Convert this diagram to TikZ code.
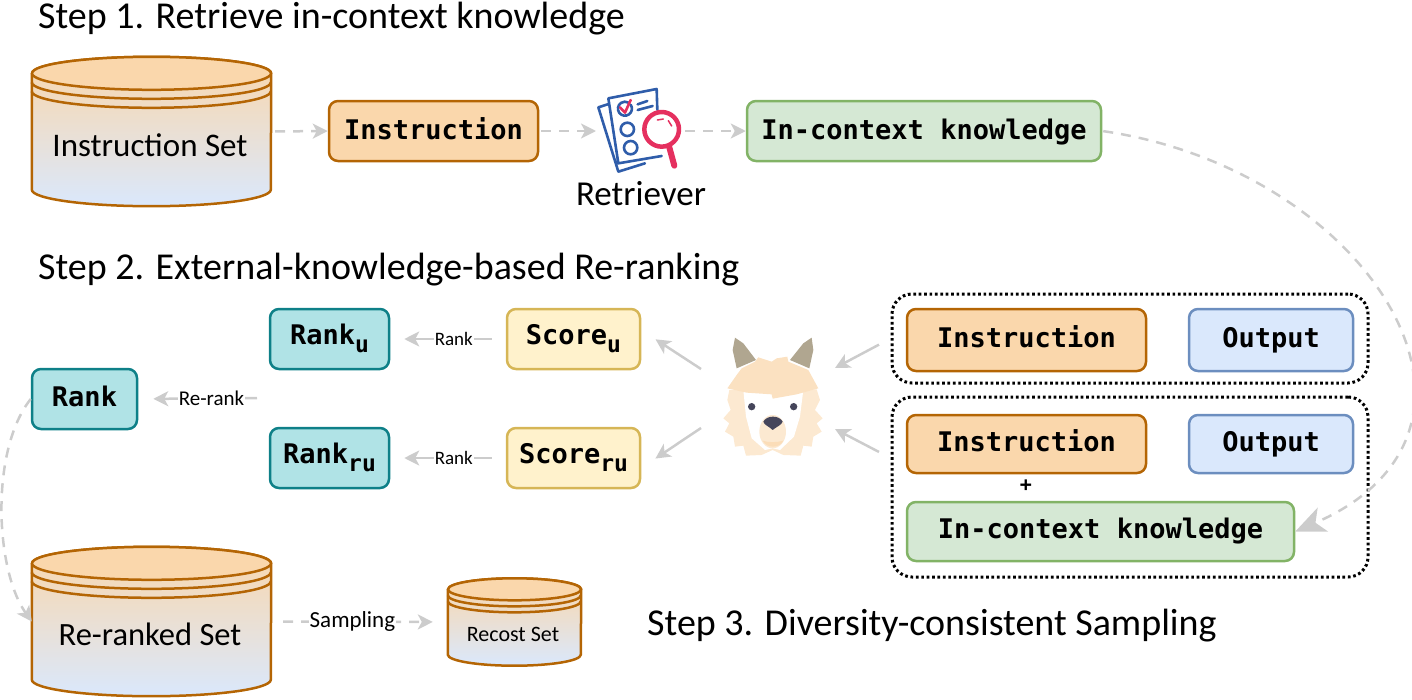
\documentclass[tikz,border=0pt]{standalone}
\usepackage{fontspec}
\setmainfont{Carlito}
\setmonofont{DejaVu Sans Mono}
\usetikzlibrary{shapes, arrows.meta, positioning}

\definecolor{storeline}{HTML}{B46504}
\definecolor{orangefill}{HTML}{FAD7AC}
\definecolor{bluefill}{HTML}{DAE8FC}
\definecolor{blueline}{HTML}{6C8EBF}
\definecolor{greenfill}{HTML}{D5E8D4}
\definecolor{greenline}{HTML}{82B366}
\definecolor{tealfill}{HTML}{B0E3E6}
\definecolor{tealline}{HTML}{0E8088}
\definecolor{yellowfill}{HTML}{FFF2CC}
\definecolor{yellowline}{HTML}{D6B656}
\definecolor{flowgray}{HTML}{CCCCCC}
\definecolor{iconblue}{HTML}{2F5DAA}
\definecolor{iconred}{HTML}{E5305F}
\definecolor{earcolor}{HTML}{B0A690}
\definecolor{nosecolor}{HTML}{45455A}

\newcommand{\fsize}[1]{\fontsize{#1}{#1}\selectfont}
\newcommand{\lowtext}[1]{\raisebox{-.3em}{\fsize{23}#1}}

% node, x radius, y radius, gap between the rims
\newcommand{\datastore}[4]{
  \draw[storeline, line width=2.5pt, top color=orangefill, bottom color=bluefill]
    ([yshift=-#3pt]#1.north west) -- ([yshift=#3pt]#1.south west)
    arc[start angle=180, end angle=360, x radius=#2pt, y radius=#3pt]
    -- ([yshift=-#3pt]#1.north east)
    arc[start angle=0, end angle=180, x radius=#2pt, y radius=#3pt];
  \draw[storeline, line width=2.5pt]
    ([yshift=-#3pt-#4pt]#1.north west) arc[start angle=180, end angle=360, x radius=#2pt, y radius=#3pt];
  \draw[storeline, line width=2.5pt]
    ([yshift=-#3pt-2*#4pt]#1.north west) arc[start angle=180, end angle=360, x radius=#2pt, y radius=#3pt];
  \draw[storeline, line width=2.5pt, fill=orangefill]
    ([yshift=-#3pt]#1.north) ellipse[x radius=#2pt, y radius=#3pt];
}

\tikzset{
  box/.style={draw, rectangle, rounded corners=9pt, line width=2.5pt, inner sep=0pt,
    minimum height=60pt, text height=20.5pt, text depth=6pt, font=\ttfamily\bfseries\fsize{27}},
  instrbox/.style={box, draw=storeline, fill=orangefill, minimum width=239pt},
  outbox/.style={box, draw=blueline, fill=bluefill, minimum width=164pt},
  knowbox/.style={box, draw=greenline, fill=greenfill},
  rankbox/.style={box, draw=tealline, fill=tealfill, minimum width=119pt},
  scorebox/.style={box, draw=yellowline, fill=yellowfill, minimum width=133pt},
  groupbox/.style={draw, rectangle, rounded corners=20pt, line width=3pt,
    dash pattern=on 2.7pt off 2.7pt, minimum width=476pt, inner sep=0pt},
  storebody/.style={rectangle, inner sep=0pt},
  steptext/.style={font=\fsize{38}, anchor=west, inner sep=0pt},
  flowline/.style={flowgray, line width=2.5pt, dash pattern=on 10pt off 8pt,
    -{Stealth[length=15pt, width=15pt, inset=4pt]}},
  plainline/.style={flowgray, line width=2.5pt, -{Stealth[length=15pt, width=15pt, inset=4pt]}},
  edgetext/.style={fill=white, text=black, inner sep=1pt, font=\fsize{19}},
}

\begin{document}
\begin{tikzpicture}[x=1pt, y=-1pt, node distance=100pt]
  \useasboundingbox (0,0) rectangle (1412,699);

  % Step titles
  \node (stepone) [steptext] at (38,19) {Step 1. Retrieve in-context knowledge};
  \node (steptwo) [steptext] at (38,270) {Step 2. External-knowledge-based Re-ranking};
  \node (stepthree) [steptext] at (647,626) {Step 3. Diversity-consistent Sampling};

  % Stores
  \node (instrset) [storebody, minimum width=239pt, minimum height=149pt] at (151.5,131.5) {};
  \datastore{instrset}{119.5}{16.5}{9}
  \node (instrsetlabel) [font=\fsize{33}] at (150,145) {Instruction Set};

  \node (rerankset) [storebody, minimum width=239pt, minimum height=149pt] at (151.5,621.5) {};
  \datastore{rerankset}{119.5}{16.5}{9}
  \node (reranklabel) [font=\fsize{32.5}] at (150,634) {Re-ranked Set};

  \node (recostset) [storebody, minimum width=133pt, minimum height=87pt] at (514.5,622) {};
  \datastore{recostset}{66.5}{11}{6}
  \node (recostlabel) [font=\fsize{22}] at (513,634) {Recost Set};

  % Step 1 boxes
  \node (instr) [instrbox, minimum width=209pt, text depth=4pt] at (433.5,131) {Instruction};
  \node (know) [knowbox, minimum width=354pt, text depth=4pt, right of=instr, node distance=490.5pt] {In-context knowledge};
  \coordinate (retrin) at (596,131);
  \coordinate (retrout) at (685,131);

  % Retriever icon
  \begin{scope}[shift={(570,70)}, x=.3333pt, y=-.3333pt, line cap=round, line join=round]
    \draw[iconblue, line width=2.6pt]
      (113,103) -- (85,112) -- (145,305) -- (225,280)
      (262,120) -- (260,57) -- (115,85) -- (145,280) -- (275,258)
      (162,118) ++(20,-14) arc[start angle=-35, end angle=300, radius=21]
      (172,178) circle[radius=20] (182,233) circle[radius=20]
      (203,103) -- (232,93) (203,120) -- (248,108);
    \draw[iconred, line width=2.6pt] (150,112) -- (165,128) -- (182,90);
    \draw[iconred, line width=4.5pt] (275,178) circle[radius=52];
    \draw[iconred, line width=6pt] (298,232) -- (313,287);
    \draw[iconred, line width=1.5pt] (262,150) -- (280,147) (295,152) -- (305,168);
  \end{scope}
  \node (retrlabel) [font=\fsize{35}] at (641,194) {Retriever};

  % Step 2 boxes
  \node (scoreu) [scorebox, text depth=10pt] at (573.5,339) {Score\lowtext{u}};
  \node (scoreru) [scorebox, text depth=10pt, below of=scoreu, node distance=119pt] {Score\lowtext{ru}};
  \node (ranku) [rankbox, text depth=10pt, left of=scoreu, node distance=244pt] {Rank\lowtext{u}};
  \node (rankru) [rankbox, text depth=10pt, left of=scoreru, node distance=244pt] {Rank\lowtext{ru}};
  \node (rank) [rankbox, minimum width=105pt] at (84.5,399) {Rank};
  \coordinate (rerankin) at (257,398);

  % Step 3 boxes
  \node (instra) [instrbox, minimum height=62pt] at (1026.5,340) {Instruction};
  \node (outa) [outbox, minimum height=62pt, right of=instra, node distance=244.5pt] {Output};
  \node (instrb) [instrbox, minimum height=58pt] at (1026.5,444) {Instruction};
  \node (outb) [outbox, minimum height=58pt, right of=instrb, node distance=244.5pt] {Output};
  \node (knowb) [knowbox, minimum width=387pt, minimum height=59pt] at (1100.5,531.5) {In-context knowledge};
  \node (plus) [font=\ttfamily\bfseries\fsize{20}] at (1026,486) {+};
  \node (groupa) [groupbox, minimum height=89pt] at (1130,338.5) {};
  \node (groupb) [groupbox, minimum height=180pt] at (1130,487) {};

  % Llama
  \begin{scope}[shift={(640,300)}, x=.3333pt, y=-.3333pt]
    \fill[earcolor] (290,205) -- (278,150) -- (285,113) -- (310,130) -- (348,180) -- cycle;
    \fill[earcolor] (450,180) -- (490,130) -- (515,113) -- (520,150) -- (508,205) -- cycle;
    \fill[orangefill!55!white] (268,270) -- (262,300) -- (272,330) -- (250,355) -- (268,370)
      -- (255,395) -- (280,410) -- (285,440) -- (310,437) -- (318,467) -- (365,465)
      -- (398,450) -- (430,465) -- (482,467) -- (490,437) -- (515,440) -- (520,410)
      -- (545,395) -- (530,370) -- (548,355) -- (525,330) -- (540,300) -- (530,268) -- cycle;
    \fill[white] (310,270) -- (318,350) -- (335,415) -- (375,450) -- (398,445) -- (420,450)
      -- (462,410) -- (480,350) -- (490,270) -- cycle;
    \fill[orangefill!75!white] (262,265) -- (290,225) -- (305,205) -- (345,185) -- (355,172)
      -- (395,185) -- (410,175) -- (442,170) -- (445,185) -- (505,210) -- (535,265)
      -- (470,283) -- (398,296) -- (395,283) -- (320,278) -- cycle;
    \fill[orangefill!55!white] (398,395) ellipse[x radius=40, y radius=50];
    \fill[orangefill!85!white] (368,422) .. controls (385,428) and (410,428) .. (430,422)
      .. controls (420,445) and (380,447) .. (368,422) -- cycle;
    \fill[nosecolor] (370,365) .. controls (380,345) and (418,345) .. (428,365)
      .. controls (425,375) and (410,380) .. (398,390) .. controls (388,380) and (372,375) .. (370,365) -- cycle;
    \fill[nosecolor] (335,320) circle[radius=11] (461,320) circle[radius=11];
  \end{scope}
  \coordinate (llamaa) at (835,368);
  \coordinate (llamab) at (835,429);
  \coordinate (llamac) at (701,369);
  \coordinate (llamad) at (701,428);

  % Arrows
  \draw[flowline, shorten <=4pt] (instrset.east) -- (instr.west);
  \draw[flowline, shorten <=2pt] (instr.east) -- (retrin);
  \draw[flowline] (retrout) -- (know.west);
  \draw[flowline, shorten <=1pt, -{Stealth[length=30pt, width=26pt, inset=8pt]}] (know.east) .. controls (1370,170) and (1530,430) .. (knowb.east);

  \draw[plainline, shorten <=13pt] ([yshift=0pt]groupa.west) -- (llamaa);
  \draw[plainline, shorten <=13pt] ([yshift=29pt]groupb.west) -- (llamab);
  \draw[plainline, shorten >=17pt] (llamac) -- ([yshift=9pt]scoreu.east);
  \draw[plainline, shorten >=17pt] (llamad) -- ([yshift=-10pt]scoreru.east);

  \draw[plainline, shorten <=14pt, shorten >=14pt] (scoreu) -- node[pos=.45] (ranktexta) [edgetext] {Rank} (ranku);
  \draw[plainline, shorten <=14pt, shorten >=14pt] (scoreru) -- node[pos=.45] (ranktextb) [edgetext] {Rank} (rankru);
  \draw[plainline, shorten >=15pt] (rerankin) -- node[pos=.383] (reranktext) [edgetext, font=\fsize{21}] {Re-rank} (rank.east);

  \draw[flowline] (rank.west) .. controls (-10,450) and (-5,570) .. (rerankset.west);
  \draw[flowline, shorten <=12pt, shorten >=15pt] (rerankset.east) -- node[pos=.46] (sampletext) [edgetext, font=\fsize{23}] {Sampling} (recostset.west);
\end{tikzpicture}
\end{document}
